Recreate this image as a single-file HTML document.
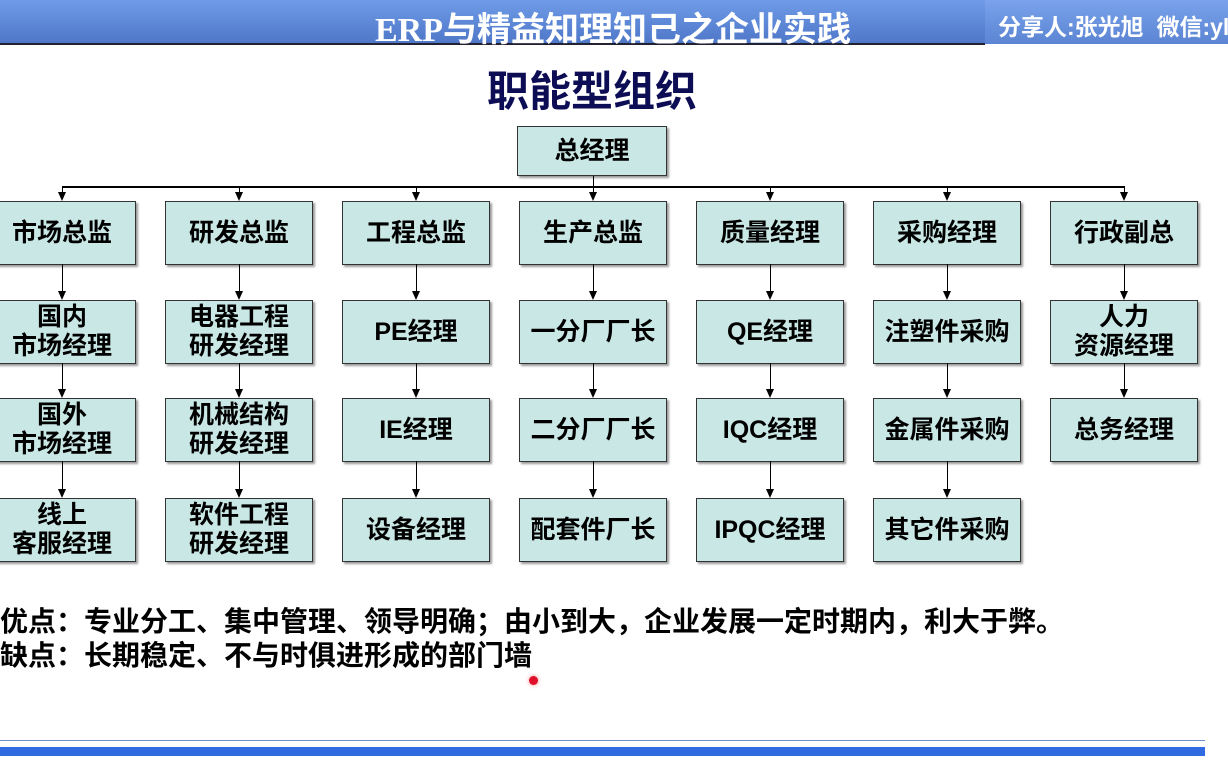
<!DOCTYPE html>
<html><head><meta charset="utf-8"><style>
body{margin:0;width:1228px;height:768px;position:relative;overflow:hidden;background:#fff;font-family:"Liberation Sans","Noto Sans CJK SC",sans-serif;}
.hdr{position:absolute;left:0;top:0;width:985px;height:43px;background:linear-gradient(#6f9be8,#4f78c8);border-bottom:2px solid #223;}
.hdr2{position:absolute;left:985px;top:0;width:243px;height:44px;background:linear-gradient(#7aa3ec,#5b84d2);}
.t{position:absolute;color:#fff;font-weight:bold;white-space:nowrap;}
.b{position:absolute;width:146px;background:#c9e7e4;border:1px solid #333;box-shadow:2px 2px 2px #999;display:flex;align-items:center;justify-content:center;text-align:center;font-weight:bold;font-size:25px;line-height:29px;color:#000;}
.v{position:absolute;width:1px;background:#000;}
.a{position:absolute;width:0;height:0;border-left:4px solid transparent;border-right:4px solid transparent;border-top:9px solid #000;}
.txt{position:absolute;left:0;font-weight:bold;font-size:28px;line-height:32px;white-space:nowrap;}
</style></head><body>
<div class="hdr"></div><div class="hdr2"></div>
<div class="t" style="left:375px;top:2px;font-size:34px;font-family:'Liberation Serif','Noto Sans CJK SC',serif;">ERP与精益知理知己之企业实践</div>
<div class="t" style="left:998px;top:8px;font-size:23px;">分享人:张光旭&nbsp; 微信:ylc</div>
<div style="position:absolute;left:487px;top:58px;font-size:42px;font-weight:bold;color:#0d0d55;">职能型组织</div>
<div class="b" style="left:517px;top:126px;height:48px;width:148px">总经理</div>
<div class="v" style="left:593px;top:176px;height:11px"></div>
<div style="position:absolute;left:62px;top:186px;width:1063px;height:2px;background:#000"></div>
<div id="o"></div>
<div class="txt" style="top:606px">优点：专业分工、集中管理、领导明确；由小到大，企业发展一定时期内，利大于弊。</div>
<div class="txt" style="top:640px">缺点：长期稳定、不与时俱进形成的部门墙</div>
<div style="position:absolute;left:529px;top:676px;width:9px;height:9px;border-radius:50%;background:#e0102a;box-shadow:0 0 4px #f88"></div>
<div style="position:absolute;left:0;top:740px;width:1205px;height:1px;background:#6a8ec8"></div>
<div style="position:absolute;left:0;top:747px;width:1205px;height:9px;background:#2f6ae0"></div>
<script>
var cols=[["市场总监","国内<br>市场经理","国外<br>市场经理","线上<br>客服经理"],["研发总监","电器工程<br>研发经理","机械结构<br>研发经理","软件工程<br>研发经理"],["工程总监","PE经理","IE经理","设备经理"],["生产总监","一分厂厂长","二分厂厂长","配套件厂长"],["质量经理","QE经理","IQC经理","IPQC经理"],["采购经理","注塑件采购","金属件采购","其它件采购"],["行政副总","人力<br>资源经理","总务经理"]];
var rows=[201,300,398,498],h=62,s="";
cols.forEach(function(c,i){var x=-12+177*i;var cx=x+74;
s+='<div class="v" style="left:'+cx+'px;top:187px;height:6px"></div><div class="a" style="left:'+(cx-4)+'px;top:192px"></div>';
c.forEach(function(t,j){var y=rows[j];s+='<div class="b" style="left:'+x+'px;top:'+y+'px;height:'+h+'px">'+t+'</div>';
if(j<c.length-1){var ny=rows[j+1];s+='<div class="v" style="left:'+cx+'px;top:'+(y+h+1)+'px;height:'+(ny-y-h-10)+'px"></div><div class="a" style="left:'+(cx-4)+'px;top:'+(ny-9)+'px"></div>';}});});
document.getElementById("o").outerHTML=s;
</script>
</body></html>
